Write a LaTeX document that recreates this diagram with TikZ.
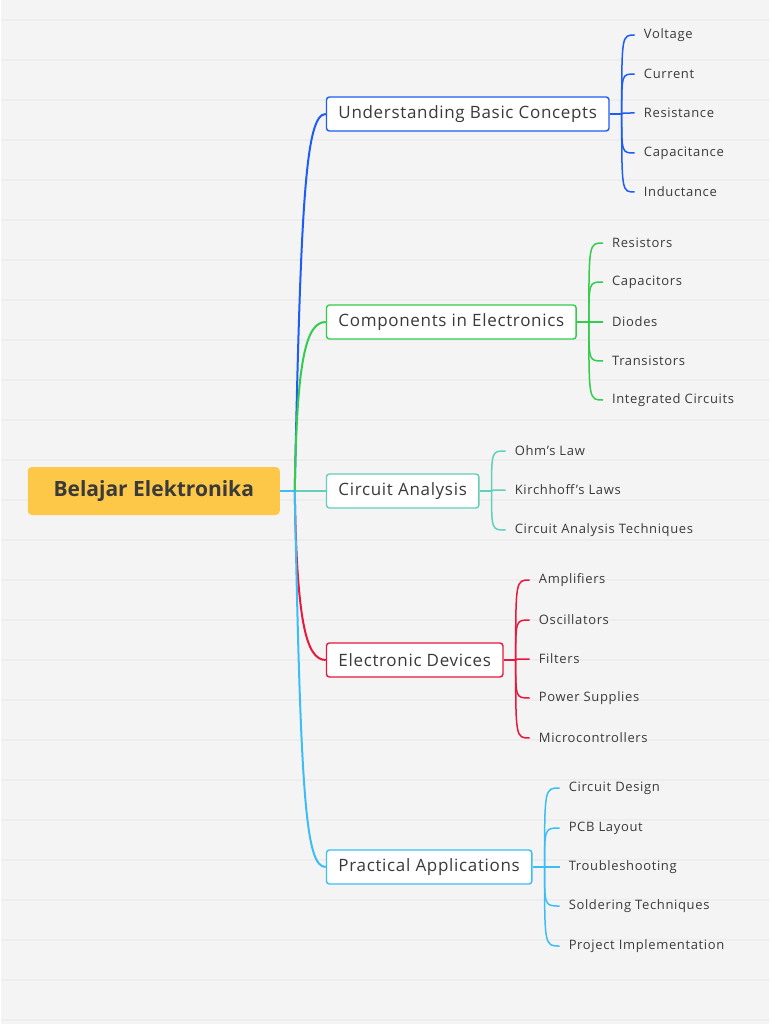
\documentclass[tikz,border=0pt]{standalone}
\usepackage{fontspec}
\setmainfont{Open Sans}
\usetikzlibrary{positioning}

\definecolor{fond}{HTML}{F4F4F4}
\definecolor{rayure}{HTML}{EDEDED}
\definecolor{jaune}{HTML}{FDC848}
\definecolor{encre}{HTML}{3A3A3A}
\definecolor{bleu}{HTML}{1D5CF6}
\definecolor{vert}{HTML}{33CC4C}
\definecolor{turquoise}{HTML}{62CFBA}
\definecolor{rouge}{HTML}{E8173C}
\definecolor{ciel}{HTML}{3CBDF6}

\begin{document}
\begin{tikzpicture}[x=1pt,y=-1pt,
  racine/.style={fill=jaune, rounded corners=4pt, minimum width=252pt, minimum height=48pt,
    text=encre, font=\fontsize{21}{24}\selectfont\bfseries},
  branche/.style={draw=#1, line width=1.4pt, fill=white, rounded corners=3pt, anchor=west,
    minimum height=34pt, inner xsep=12pt, text=encre,
    font=\fontsize{17}{20}\selectfont\addfontfeatures{LetterSpace=4}},
  feuille/.style={anchor=west, inner xsep=9pt, text=encre,
    font=\fontsize{13}{15}\selectfont\addfontfeatures{LetterSpace=5}},
  lien/.style={draw=#1, line width=2pt},
  brin/.style={draw=#1, line width=1.5pt}]

% fond
\fill[fond] (0,0) rectangle (768,1024);
\foreach \y in {20,60,...,1020}
  \draw[rayure, line width=1.5pt] (0,\y) -- (768,\y);
\useasboundingbox (0,0) rectangle (768,1024);

% noeuds
\node[racine] (racine) at (153,491) {Belajar Elektronika};
\node[branche=bleu] (concepts) at (325,114) {Understanding Basic Concepts};
\node[branche=vert] (composants) at (325,322) {Components in Electronics};
\node[branche=turquoise] (analyse) at (325,491) {Circuit Analysis};
\node[branche=rouge] (dispositifs) at (325,660) {Electronic Devices};
\node[branche=ciel] (pratique) at (325,867) {Practical Applications};

% tronc
\coordinate (pivot) at (294,491);
\draw[lien=ciel] (racine.east) -- (pivot);
\draw[lien=bleu] (pivot) .. controls (300,200) and (305,114) .. (concepts.west);
\draw[lien=vert] (pivot) .. controls (296,360) and (305,322) .. (composants.west);
\draw[lien=turquoise] (pivot) -- (analyse.west);
\draw[lien=rouge] (pivot) .. controls (296,620) and (305,660) .. (dispositifs.west);
\draw[lien=ciel] (pivot) .. controls (300,800) and (305,867) .. (pratique.west);

% feuilles
\coordinate (e1) at ([xshift=12pt]concepts.east);
\draw[brin=bleu] (concepts.east) -- (e1);
\foreach \t/\y [count=\i] in {Voltage/35, Current/74, Resistance/113, Capacitance/153, Inductance/192} {
  \node[feuille, xshift=13pt] (c\i) at (e1 |- 0,\y) {\t};
  \draw[brin=bleu] (e1) .. controls (e1 |- c\i.west) .. (c\i.west);
}

\coordinate (e2) at ([xshift=12pt]composants.east);
\draw[brin=vert] (composants.east) -- (e2);
\foreach \t/\y [count=\i] in {Resistors/243, Capacitors/282, Diodes/322, Transistors/361, Integrated Circuits/400} {
  \node[feuille, xshift=14pt] (k\i) at (e2 |- 0,\y) {\t};
  \draw[brin=vert] (e2) .. controls (e2 |- k\i.west) .. (k\i.west);
}

\coordinate (e3) at ([xshift=12pt]analyse.east);
\draw[brin=turquoise] (analyse.east) -- (e3);
\foreach \t/\y [count=\i] in {Ohm's Law/451, Kirchhoff's Laws/490, Circuit Analysis Techniques/530} {
  \node[feuille, xshift=14pt] (a\i) at (e3 |- 0,\y) {\t};
  \draw[brin=turquoise] (e3) .. controls (e3 |- a\i.west) .. (a\i.west);
}

\coordinate (e4) at ([xshift=12pt]dispositifs.east);
\draw[brin=rouge] (dispositifs.east) -- (e4);
\foreach \t/\y [count=\i] in {Amplifiers/580, Oscillators/620, Filters/659, Power Supplies/698, Microcontrollers/738} {
  \node[feuille, xshift=14pt] (d\i) at (e4 |- 0,\y) {\t};
  \draw[brin=rouge] (e4) .. controls (e4 |- d\i.west) .. (d\i.west);
}

\coordinate (e5) at ([xshift=12pt]pratique.east);
\draw[brin=ciel] (pratique.east) -- (e5);
\foreach \t/\y [count=\i] in {Circuit Design/788, PCB Layout/828, Troubleshooting/867, Soldering Techniques/906, Project Implementation/946} {
  \node[feuille, xshift=15pt] (p\i) at (e5 |- 0,\y) {\t};
  \draw[brin=ciel] (e5) .. controls (e5 |- p\i.west) .. (p\i.west);
}

\end{tikzpicture}
\end{document}
